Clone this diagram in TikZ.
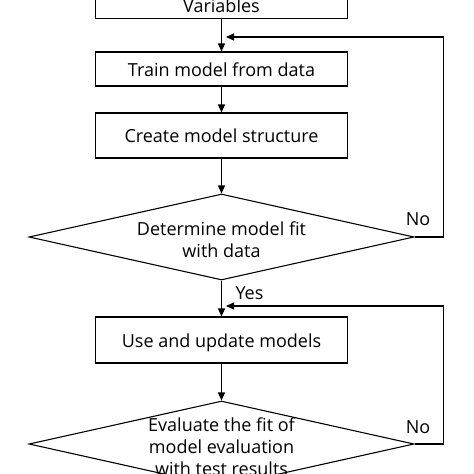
\documentclass[tikz,border=0pt]{standalone}
\usepackage{fontspec}
\setmainfont{Open Sans}
\usetikzlibrary{shapes.geometric,arrows.meta}
\tikzset{
  texto/.style={font=\fontsize{18}{22}\selectfont},
  caja/.style={draw, texto, line width=1.1pt, minimum width=252pt, inner sep=0pt, text height=16pt, text depth=2pt},
  decision/.style={draw, diamond, line width=1.1pt, minimum width=385pt, minimum height=86pt, inner sep=0pt},
  flecha/.style={-{Triangle[length=8pt,width=7pt]}, line width=1.1pt},
}
\begin{document}
\begin{tikzpicture}[x=1pt,y=-1pt]
  \useasboundingbox (0,0) rectangle (474,474);

  % Cajas
  \node[caja, text height=34pt, text depth=6pt, anchor=base] (vars) at (221.5,12.5) {Variables};
  \node[caja, minimum height=34pt] (train) at (221.5,69) {Train model from data};
  \node[caja, minimum height=45pt] (create) at (221.5,135.5) {Create model structure};
  \node[caja, minimum height=46pt] (use) at (221.5,340) {Use and update models};

  % Rombos de decision
  \node[decision] (fit1) at (221.5,237) {};
  \node[texto, align=center] (fit1txt) at (221.5,240) {Determine model fit\\with data};
  \node[decision] (fit2) at (221.5,444) {};
  \node[texto, align=center] (fit2txt) at (221.5,447) {Evaluate the fit of\\model evaluation\\with test results};

  % Flechas principales
  \draw[flecha] (vars.south) -- (train.north);
  \draw[flecha] (train.south) -- (create.north);
  \draw[flecha] (create.south) -- (fit1.north);
  \draw[flecha] (fit1.south) -- (use.north);
  \draw[flecha] (use.south) -- (fit2.north);

  % Retornos (No)
  \coordinate (ret1) at (226,37);
  \coordinate (ret2) at (226,306);
  \draw[flecha] (fit1.east) -- ++(29,0) |- (ret1);
  \draw[flecha] (fit2.east) -- ++(29,0) |- (ret2);

  % Etiquetas
  \node[texto] (no1) at (418,219) {No};
  \node[texto, anchor=west] (yes) at (232,293) {Yes};
  \node[texto] (no2) at (418,427) {No};
\end{tikzpicture}
\end{document}
